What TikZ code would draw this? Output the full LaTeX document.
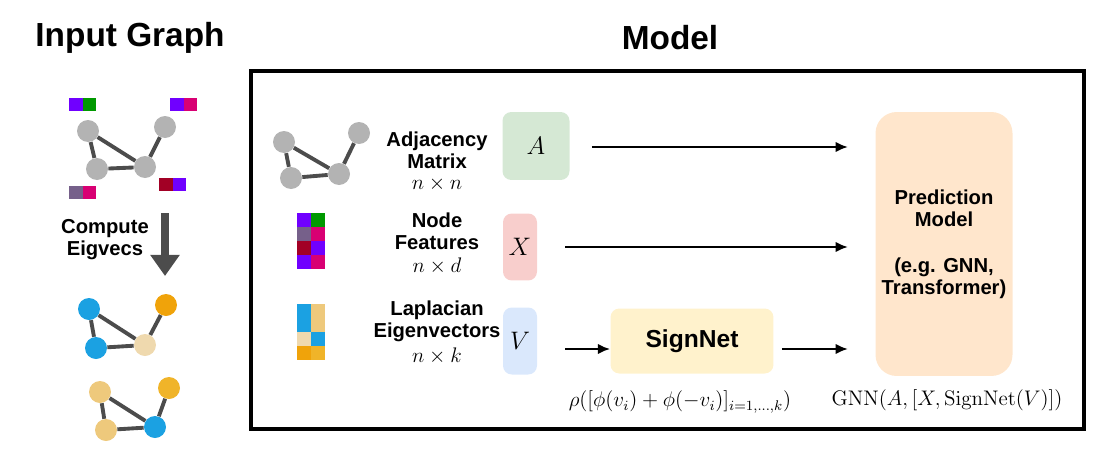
\documentclass[tikz,border=0pt]{standalone}
\usepackage{amsmath, amssymb}
\usepackage[no-math]{fontspec}
\setmainfont{Liberation Sans}
\usetikzlibrary{calc,positioning,arrows,arrows.meta,fit,shapes}
\definecolor{gnode}{HTML}{B3B3B3}
\definecolor{eblue}{HTML}{1BA1E2}
\definecolor{eorange}{HTML}{F0A30A}
\definecolor{ebeige}{HTML}{EFD9AE}
\definecolor{etan}{HTML}{EEC97C}
\definecolor{eyellow}{HTML}{F0B429}
\definecolor{fpurple}{HTML}{7000FF}
\definecolor{fgreen}{HTML}{009900}
\definecolor{fmag}{HTML}{D80073}
\definecolor{fgray}{HTML}{76608A}
\definecolor{fred}{HTML}{A20025}
\definecolor{bgreen}{HTML}{D5E8D4}
\definecolor{bred}{HTML}{F8CECC}
\definecolor{bblue}{HTML}{DAE8FC}
\definecolor{byellow}{HTML}{FFF2CC}
\definecolor{borange}{HTML}{FFE6CC}
\begin{document}
\begin{tikzpicture}[x=0.02cm,y=-0.02cm,
  vtx/.style={circle,inner sep=0pt,minimum size=0.44cm},
  edg/.style={line width=2.2pt,draw=black!70},
  lbl/.style={font=\bfseries\fontsize{11.5}{12.5}\selectfont,align=center},
  dim/.style={font=\fontsize{12}{13}\selectfont},
  box/.style={rounded corners=5pt,inner sep=0pt,font=\fontsize{15}{16}\selectfont},
  arr/.style={-{Latex[length=7pt,width=6pt]},line width=1.5pt}]
  \useasboundingbox (0,0) rectangle (1118,460);
  % titles
  \node[font=\bfseries\fontsize{19}{21}\selectfont] (tin) at (130,38) {Input Graph};
  \node[font=\bfseries\fontsize{19}{21}\selectfont] (tmod) at (670,38) {Model};
  \draw[line width=2.5pt] (251,71) rectangle (1084,429);
  % input graph
  \node[vtx,fill=gnode] (g1) at (88,131) {};
  \node[vtx,fill=gnode] (g2) at (165,127) {};
  \node[vtx,fill=gnode] (g3) at (97,169) {};
  \node[vtx,fill=gnode] (g4) at (145,167) {};
  \draw[edg] (g1) -- (g3) (g1) -- (g4) (g3) -- (g4) (g4) -- (g2);
  \fill[fpurple] (69,98) rectangle (83,111); \fill[fgreen] (83,98) rectangle (96,111);
  \fill[fpurple] (170,98) rectangle (184,111); \fill[fmag] (184,98) rectangle (197,111);
  \fill[fgray] (69,186) rectangle (83,199); \fill[fmag] (83,186) rectangle (96,199);
  \fill[fred] (159,178) rectangle (173,191); \fill[fpurple] (173,178) rectangle (186,191);
  % compute
  \coordinate (c1) at (165,213);
  \coordinate (c2) at (165,276);
  \draw[line width=5pt,draw=black!70,-{Triangle[width=16pt,length=12pt]}] (c1) -- (c2);
  \node[lbl] (comp) at (105,240) {Compute\\Eigvecs};
  % eigvec graphs
  \node[vtx,fill=eblue] (h1) at (89,309) {};
  \node[vtx,fill=eorange] (h2) at (166,305) {};
  \node[vtx,fill=eblue] (h3) at (96,348) {};
  \node[vtx,fill=ebeige] (h4) at (145,345) {};
  \draw[edg] (h1) -- (h3) (h1) -- (h4) (h3) -- (h4) (h4) -- (h2);
  \node[vtx,fill=etan] (k1) at (100,392) {};
  \node[vtx,fill=eyellow] (k2) at (169,388) {};
  \node[vtx,fill=etan] (k3) at (106,430) {};
  \node[vtx,fill=eblue] (k4) at (155,427) {};
  \draw[edg] (k1) -- (k3) (k1) -- (k4) (k3) -- (k4) (k4) -- (k2);
  % model inputs
  \node[vtx,fill=gnode] (m1) at (284,142) {};
  \node[vtx,fill=gnode] (m2) at (359,133) {};
  \node[vtx,fill=gnode] (m3) at (291,178) {};
  \node[vtx,fill=gnode] (m4) at (339,174) {};
  \draw[edg] (m1) -- (m3) (m1) -- (m4) (m3) -- (m4) (m4) -- (m2);
  \fill[fpurple] (297,213) rectangle (311,227); \fill[fgreen] (311,213) rectangle (325,227);
  \fill[fgray] (297,227) rectangle (311,241); \fill[fmag] (311,227) rectangle (325,241);
  \fill[fred] (297,241) rectangle (311,255); \fill[fpurple] (311,241) rectangle (325,255);
  \fill[fpurple] (297,255) rectangle (311,269); \fill[fmag] (311,255) rectangle (325,269);
  \fill[eblue] (297,304) rectangle (311,332); \fill[etan] (311,304) rectangle (325,332);
  \fill[ebeige] (297,332) rectangle (311,346); \fill[eblue] (311,332) rectangle (325,346);
  \fill[eorange] (297,346) rectangle (311,360); \fill[eyellow] (311,346) rectangle (325,360);
  \node[lbl] (adj) at (437,150) {Adjacency\\Matrix};
  \node[dim] (nn) at (437,184) {$n\times n$};
  \node[lbl] (nf) at (437,231) {Node\\Features};
  \node[dim] (nd) at (437,266) {$n\times d$};
  \node[lbl] (le) at (437,321) {Laplacian\\Eigenvectors};
  \node[dim] (nk) at (437,356) {$n\times k$};
  % boxes
  \node[box,fill=bgreen,minimum width=1.34cm,minimum height=1.36cm] (A) at (536,146) {$A$};
  \node[box,fill=bred,minimum width=0.68cm,minimum height=1.34cm] (X) at (520,247) {$X$};
  \node[box,fill=bblue,minimum width=0.68cm,minimum height=1.34cm] (V) at (520,341) {$V$};
  \node[box,fill=byellow,minimum width=3.26cm,minimum height=1.3cm,font=\bfseries\fontsize{14}{15}\selectfont] (sn) at (692,341) {SignNet};
  \node[box,rounded corners=12pt,fill=borange,minimum width=2.74cm,minimum height=5.28cm,lbl] (pm) at (944,244) {Prediction\\Model\\[1.2em](e.g. GNN,\\Transformer)};
  \coordinate (p1) at (848,147);
  \coordinate (p2) at (848,247);
  \coordinate (p3) at (848,349);
  \draw[arr] (A.east) ++(22,1) coordinate (a0) (a0) -- (p1);
  \draw[arr] (X.east) ++(28,0) coordinate (x0) (x0) -- (p2);
  \draw[arr] (V.east) ++(28,8) coordinate (v0) (v0) -- (sn.west |- v0);
  \draw[arr] (sn.east) ++(8,8) coordinate (s0) (s0) -- (p3);
  \node[dim] (rho) at (680,402) {$\rho([\phi(v_i)+\phi(-v_i)]_{i=1,\ldots,k})$};
  \node[dim] (gnn) at (947,400) {$\mathrm{GNN}(A,[X,\mathrm{SignNet}(V)])$};
\end{tikzpicture}
\end{document}
